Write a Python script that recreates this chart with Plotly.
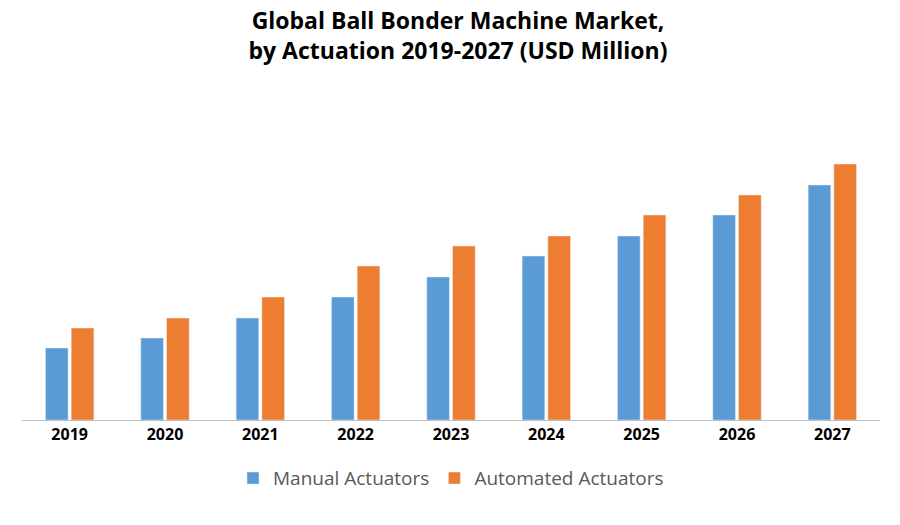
import plotly.graph_objects as go

years = ["2019","2020","2021","2022","2023","2024","2025","2026","2027"]
manual = [72, 82, 102, 123, 143, 164, 184, 205, 235]
automated = [92, 102, 123, 154, 174, 184, 205, 225, 256]

fig = go.Figure()
fig.add_bar(x=years, y=manual, name="Manual Actuators", marker_color="#5B9BD5")
fig.add_bar(x=years, y=automated, name="Automated Actuators", marker_color="#ED7D31")
fig.update_layout(
    width=900, height=525, plot_bgcolor="white", paper_bgcolor="white",
    font=dict(family="Open Sans", color="#404040"),
    title=dict(text="<b>Global Ball Bonder Machine Market,<br>by Actuation 2019-2027 (USD Million)</b>",
               x=0.5, xanchor="center", y=0.96, yanchor="top",
               font=dict(size=23, color="black")),
    barmode="group", bargap=0.46, bargroupgap=0.12,
    margin=dict(l=14, r=28, t=132, b=113),
    legend=dict(orientation="h", x=0.5, xanchor="center", y=-0.14, yanchor="top",
                font=dict(size=19, color="#595959")),
    xaxis=dict(showline=True, linecolor="#BFBFBF", linewidth=1, ticks="",
               tickfont=dict(size=16, color="black", family="Open Sans"), tickprefix="<b>", ticksuffix="</b>"),
    yaxis=dict(visible=False, range=[0, 280]),
)
fig.write_html("out.html")
